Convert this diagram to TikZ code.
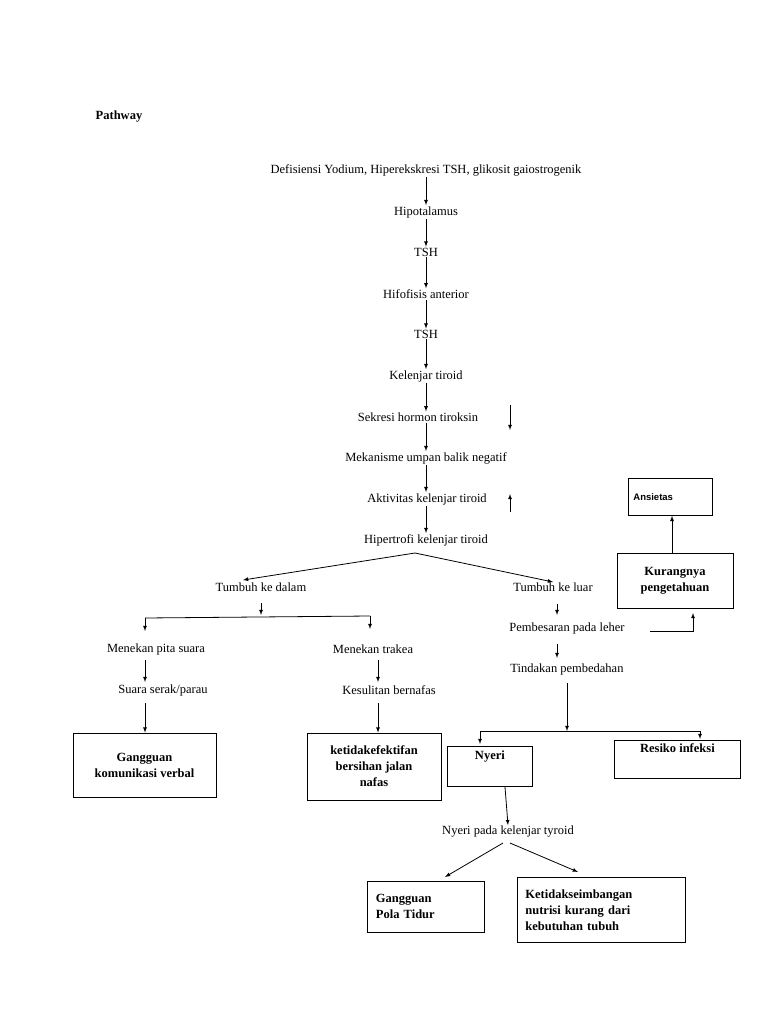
\documentclass[tikz,border=0pt]{standalone}
\usepackage{fontspec}
\setmainfont{Liberation Serif}
\newfontfamily\sansf{Liberation Sans}
\begin{document}
\begin{tikzpicture}[x=1pt,y=-1pt,
  t/.style={font=\fontsize{12.5}{15}\selectfont, inner sep=1pt},
  bx/.style={draw, line width=0.8pt, font=\fontsize{12.5}{16}\selectfont\bfseries, align=center, inner sep=2pt},
  a/.style={-latex, line width=0.8pt},
  l/.style={line width=0.8pt}]
\useasboundingbox (0,0) rectangle (768,1024);
\node[t,font=\fontsize{12.5}{15}\selectfont\bfseries] (pw) at (119,117) {Pathway};
\node[t] (n1) at (426,170) {Defisiensi Yodium, Hiperekskresi TSH, glikosit gaiostrogenik};
\node[t] (n2) at (426,212) {Hipotalamus};
\node[t] (n3) at (426,252) {TSH};
\node[t] (n4) at (426,294) {Hifofisis anterior};
\node[t] (n5) at (426,334) {TSH};
\node[t] (n6) at (426,376) {Kelenjar tiroid};
\node[t] (n7) at (418,417) {Sekresi hormon tiroksin};
\node[t] (n8) at (426,458) {Mekanisme umpan balik negatif};
\node[t] (n9) at (427,499) {Aktivitas kelenjar tiroid};
\node[t] (n10) at (426,540) {Hipertrofi kelenjar tiroid};
\foreach \p/\q in {n1/n2,n2/n3,n3/n4,n4/n5,n5/n6,n6/n8,n8/n10}{}
\draw[a] (n1) -- (n2);
\draw[a] (n2) -- (n3);
\draw[a] (n3) -- (n4);
\draw[a] (n4) -- (n5);
\draw[a] (n5) -- (n6);
\draw[a] (n6.south -| n1) -- (n7.north -| n1);
\draw[a] (n7.south -| n1) -- (n8);
\draw[a] (n8) -- (n9.north -| n1);
\draw[a] (n9.south -| n1) -- (n10);
\coordinate (s1) at (510,405); \coordinate (s2) at (510,430);
\draw[a] (s1) -- (s2);
\coordinate (u1) at (510,512); \coordinate (u2) at (510,494);
\draw[a] (u1) -- (u2);
% split
\node[t] (td) at (261,587) {Tumbuh ke dalam};
\node[t] (tl) at (553,587) {Tumbuh ke luar};
\coordinate (hs) at (415,553);
\draw[a] (hs) -- (243,580);
\draw[a] (hs) -- (553,582);
% left branch
\coordinate (d1) at (261,603); \coordinate (d2) at (261,615);
\draw[a] (d1) -- (d2);
\coordinate (hl) at (145,618); \coordinate (hr) at (370,616);
\draw[l] (hl) -- (hr);
\node[t] (mp) at (156,649) {Menekan pita suara};
\node[t] (mt) at (373,649) {Menekan trakea};
\draw[a] (hl) -- (145,631);
\draw[a] (hr) -- (370,629);
\node[t] (ss) at (163,690) {Suara serak/parau};
\node[t] (kb) at (389,690) {Kesulitan bernafas};
\draw[a] (145,660) -- (145,682);
\draw[a] (378,660) -- (378,682);
\node[bx, minimum width=143, minimum height=64] (g1) at (144.5,765) {Gangguan\\komunikasi verbal};
\node[bx, minimum width=134, minimum height=67] (g2) at (374,766.5) {ketidakefektifan\\bersihan jalan\\nafas};
\draw[a] (145,703) -- (g1.north -| 145,0);
\draw[a] (378,703) -- (g2.north -| 378,0);
% right branch
\node[t] (pb) at (567,628) {Pembesaran pada leher};
\node[t] (tp) at (567,669) {Tindakan pembedahan};
\draw[a] (557,604) -- (557,615);
\draw[a] (557,644) -- (557,658);
\node[bx, minimum width=116, minimum height=55] (kp) at (675,580.5) {Kurangnya\\pengetahuan};
\node[draw, line width=0.8pt, font=\sansf\fontsize{9.5}{11}\selectfont\bfseries, minimum width=84, minimum height=37, text width=74, align=left, anchor=north west, inner sep=4pt] (an) at (628,478) {Ansietas\\[8pt]};
\draw[a] (650,631) -- (693,631) -- (693,613);
\draw[a] (kp.north -| 672,0) -- (an.south -| 672,0);
\coordinate (tj) at (567,731);
\draw[a] (567,683) -- (tj);
\draw[l] (480,731) -- (700,731);
\node[bx, minimum width=85, minimum height=40, anchor=north west] (ny) at (447,746) {Nyeri\\[6pt]};
\node[bx, minimum width=126, minimum height=38, anchor=north west] (ri) at (614,740) {Resiko infeksi\\[6pt]};
\draw[a] (480,731) -- (480,744);
\draw[a] (700,731) -- (700,739);
\node[t] (npk) at (508,832) {Nyeri pada kelenjar tyroid};
\draw[a] (505,787) -- (npk.north);
\node[bx, minimum width=117, minimum height=51, anchor=north west, align=left, text width=100] (gp) at (367,881) {Gangguan\\Pola Tidur};
\node[bx, minimum width=168, minimum height=65, anchor=north west, align=left, text width=152] (kt) at (517,877) {Ketidakseimbangan\\nutrisi kurang dari\\kebutuhan tubuh};
\draw[a] (503,843) -- (445,877);
\draw[a] (510,843) -- (578,872);
\end{tikzpicture}
\end{document}
